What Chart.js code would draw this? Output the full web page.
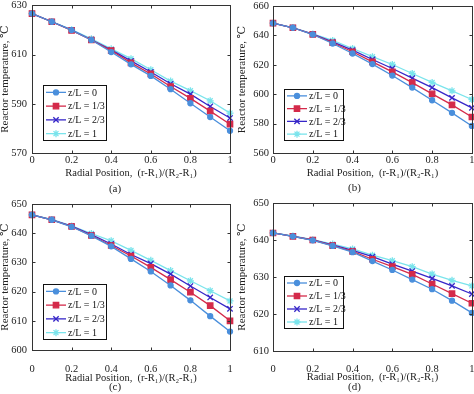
<!DOCTYPE html>
<html>
<head>
<meta charset="utf-8">
<script src="https://cdn.jsdelivr.net/npm/chart.js@4.4.0/dist/chart.umd.min.js"></script>
<style>
  body { margin: 0; background: #fff; width: 474px; height: 394px; overflow: hidden; position: relative; }
  canvas { position: absolute; }
</style>
</head>
<body>
<canvas id="chartA" width="237" height="197" style="left:0;top:0"></canvas>
<canvas id="chartB" width="240" height="197" style="left:237px;top:0"></canvas>
<canvas id="chartC" width="237" height="199" style="left:0;top:195px"></canvas>
<canvas id="chartD" width="240" height="199" style="left:237px;top:195px"></canvas>
<script>
// radial position (r-R1)/(R2-R1)
var radialPos = [0, 0.1, 0.2, 0.3, 0.4, 0.5, 0.6, 0.7, 0.8, 0.9, 1];
var xTickVals = [0, 0.2, 0.4, 0.6, 0.8, 1];
var seriesLabels = ['z/L = 0', 'z/L = 1/3', 'z/L = 2/3', 'z/L = 1'];

// (a)
var a0 = [626.6, 623.3, 619.9, 615.9, 611.0, 606.0, 601.3, 595.9, 590.2, 584.6, 579.0];
var a1 = [626.6, 623.3, 619.8, 615.9, 611.6, 606.6, 602.1, 597.0, 592.2, 587.0, 581.7];
var a2 = [626.6, 623.3, 619.9, 616.0, 611.9, 607.4, 602.9, 598.1, 593.9, 588.9, 584.2];
var a3 = [626.6, 623.4, 620.1, 616.4, 612.3, 608.3, 603.8, 599.2, 595.3, 591.2, 586.2];
var yTicksA = [570, 590, 610, 630];

// (b)
var b0 = [648.3, 645.2, 640.6, 634.5, 627.7, 620.5, 612.7, 604.5, 595.9, 587.3, 578.4];
var b1 = [648.3, 645.2, 640.7, 635.0, 628.9, 622.0, 615.2, 607.9, 600.2, 592.7, 584.5];
var b2 = [648.3, 645.2, 640.8, 635.6, 630.0, 623.6, 617.5, 610.9, 604.5, 597.5, 590.7];
var b3 = [648.3, 645.3, 641.0, 636.6, 631.1, 625.5, 620.2, 614.1, 608.0, 602.3, 596.4];
var yTicksB = [560, 580, 600, 620, 640, 660];

// (c)
var c0 = [646.3, 644.6, 642.2, 639.1, 635.5, 631.2, 626.9, 622.1, 617.0, 611.6, 606.3];
var c1 = [646.3, 644.6, 642.3, 639.2, 635.8, 632.2, 628.3, 624.1, 619.8, 615.2, 610.0];
var c2 = [646.3, 644.6, 642.4, 639.5, 636.3, 632.7, 629.6, 626.0, 621.9, 618.0, 614.1];
var c3 = [646.3, 644.7, 642.5, 639.9, 637.4, 634.1, 630.7, 627.2, 623.7, 620.3, 616.8];
var yTicksC = [600, 610, 620, 630, 640, 650];

// (d)
var d0 = [641.9, 641.0, 639.9, 638.4, 636.7, 634.3, 631.9, 629.3, 626.7, 623.6, 620.3];
var d1 = [641.9, 641.0, 640.0, 638.5, 636.9, 634.8, 632.8, 630.7, 628.1, 625.5, 622.9];
var d2 = [641.9, 641.0, 640.0, 638.7, 637.2, 635.5, 633.5, 631.6, 629.6, 627.6, 625.4];
var d3 = [641.9, 641.1, 640.1, 638.9, 637.6, 635.9, 634.4, 632.8, 630.8, 629.1, 627.6];
var yTicksD = [610, 620, 630, 640, 650];

var serif = '"Liberation Serif", "DejaVu Serif", serif';
var styles = [
    { color: '#4a8fdc', pointStyle: 'circle', radius: 2.5 },
    { color: '#d42a4a', pointStyle: 'rect', radius: 3.8 },
    { color: '#3626c8', pointStyle: 'crossRot', radius: 3.8 },
    { color: '#7ae4ec', pointStyle: 'star', radius: 3.5 }
];

// legend drawn as a boxed key inside the plot
var boxLegend = {
    id: 'boxLegend',
    afterDatasetsDraw: function (chart, args, opts) {
        var ctx = chart.ctx, area = chart.chartArea;
        var x = Math.round(area.left + opts.dx), y = Math.round(area.top + opts.dy);
        var w = opts.w, h = opts.h, rowH = h / 4;
        ctx.save();
        ctx.fillStyle = '#fff';
        ctx.fillRect(x, y, w, h);
        ctx.strokeStyle = '#111';
        ctx.lineWidth = 1;
        ctx.strokeRect(x + 0.5, y + 0.5, w, h);
        chart.data.datasets.forEach(function (ds, i) {
            var cy = y + rowH * (i + 0.5) + 0.5;
            ctx.strokeStyle = ds.borderColor;
            ctx.fillStyle = ds.backgroundColor;
            ctx.lineWidth = ds.borderWidth;
            ctx.beginPath();
            ctx.moveTo(x + 3, cy);
            ctx.lineTo(x + 23, cy);
            ctx.stroke();
            ctx.lineWidth = ds.pointBorderWidth;
            Chart.helpers.drawPoint(ctx, {
                pointStyle: ds.pointStyle, radius: ds.pointRadius,
                borderWidth: ds.pointBorderWidth, rotation: 0
            }, x + 13, cy);
            ctx.fillStyle = '#111';
            ctx.font = '10px ' + serif;
            ctx.textBaseline = 'middle';
            ctx.textAlign = 'left';
            ctx.fillText(ds.label, x + 25, cy + 0.5);
        });
        ctx.restore();
    }
};

// box around the plot, small inward ticks, and the x tick labels
var frame = {
    id: 'frame',
    afterDraw: function (chart, args, opts) {
        var ctx = chart.ctx, a = chart.chartArea;
        var sx = chart.scales.x, sy = chart.scales.y;
        var L = Math.round(a.left) + 0.5, R = Math.round(a.right) + 0.5;
        var T = Math.round(a.top) + 0.5, B = Math.round(a.bottom) + 0.5;
        ctx.save();
        ctx.strokeStyle = '#333';
        ctx.lineWidth = 1;
        ctx.strokeRect(L, T, R - L, B - T);
        ctx.beginPath();
        sx.ticks.forEach(function (t) {
            var px = Math.round(sx.getPixelForValue(t.value)) + 0.5;
            ctx.moveTo(px, B); ctx.lineTo(px, B - 3);
            ctx.moveTo(px, T); ctx.lineTo(px, T + 3);
        });
        sy.ticks.forEach(function (t) {
            var py = Math.round(sy.getPixelForValue(t.value)) + 0.5;
            ctx.moveTo(L, py); ctx.lineTo(L + 3, py);
            ctx.moveTo(R, py); ctx.lineTo(R - 3, py);
        });
        ctx.stroke();
        ctx.fillStyle = '#222';
        ctx.font = '10.5px ' + serif;
        ctx.textAlign = 'center';
        ctx.textBaseline = 'middle';
        sx.ticks.forEach(function (t) {
            ctx.fillText(String(+t.value.toFixed(1)), sx.getPixelForValue(t.value), opts.tickY);
        });
        ctx.restore();
    }
};

function makePanel(id, series, yTicks, caption, g, leg) {
    var canvas = document.getElementById(id);
    var W = canvas.width, H = canvas.height;
    var titleLH = 10.5 * 1.2, capLH = 11 * 1.2;
    var padBottom = Math.max(0, H - g.captionY - capLH / 2);
    var axisBottom = H - padBottom - capLH;
    var xAxisH = axisBottom - g.plotBottom;

    var datasets = series.map(function (vals, i) {
        var st = styles[i];
        return {
            label: seriesLabels[i],
            data: vals.map(function (v, j) { return { x: radialPos[j], y: v }; }),
            borderColor: st.color,
            backgroundColor: st.color,
            borderWidth: 1.3,
            pointStyle: st.pointStyle,
            pointRadius: st.radius,
            pointBorderWidth: 1.3,
            pointHoverRadius: st.radius,
            tension: 0,
            clip: 8
        };
    });

    return new Chart(canvas.getContext('2d'), {
        type: 'line',
        data: { datasets: datasets },
        options: {
            responsive: false,
            animation: false,
            layout: { padding: { left: 0, top: g.plotTop, right: W - g.plotRight, bottom: padBottom } },
            plugins: {
                legend: { display: false },
                tooltip: { enabled: false },
                title: {
                    display: true, text: caption, position: 'bottom',
                    padding: 0, color: '#222',
                    font: { family: serif, size: 11, weight: 'normal' }
                },
                boxLegend: leg,
                frame: { tickY: g.tickY }
            },
            scales: {
                x: {
                    type: 'linear', min: 0, max: 1,
                    afterBuildTicks: function (s) { s.ticks = xTickVals.map(function (v) { return { value: v }; }); },
                    afterFit: function (s) { s.height = xAxisH; },
                    grid: { display: false, drawTicks: false },
                    ticks: { display: false },
                    title: {
                        display: true,
                        text: 'Radial Position,  (r-R\u2081)/(R\u2082-R\u2081)',
                        color: '#222',
                        font: { family: serif, size: 10.5 },
                        padding: { top: 0, bottom: axisBottom - g.titleY - titleLH / 2 }
                    }
                },
                y: {
                    min: yTicks[0], max: yTicks[yTicks.length - 1],
                    afterBuildTicks: function (s) { s.ticks = yTicks.map(function (v) { return { value: v }; }); },
                    afterFit: function (s) { s.width = g.plotLeft; },
                    grid: { display: false, drawTicks: true, tickLength: g.yTickPad },
                    ticks: {
                        padding: 0, color: '#222',
                        font: { family: serif, size: 10.5, lineHeight: 1 }
                    },
                    title: {
                        display: true,
                        text: 'Reactor temperature, \u2103',
                        color: '#222',
                        font: { family: serif, size: 11, lineHeight: 1 },
                        padding: { top: 0, bottom: 0 }
                    }
                }
            }
        },
        plugins: [boxLegend, frame]
    });
}

makePanel('chartA', [a0, a1, a2, a3], yTicksA, '(a)',
    { plotLeft: 32, plotRight: 230, plotTop: 5, plotBottom: 153, tickY: 160, titleY: 173, captionY: 189, yTickPad: 5 },
    { dx: 11, dy: 80, w: 63, h: 55 });
makePanel('chartB', [b0, b1, b2, b3], yTicksB, '(b)',
    { plotLeft: 36, plotRight: 235, plotTop: 6, plotBottom: 153, tickY: 160, titleY: 173, captionY: 188, yTickPad: 4 },
    { dx: 11, dy: 83, w: 59, h: 51 });
makePanel('chartC', [c0, c1, c2, c3], yTicksC, '(c)',
    { plotLeft: 32, plotRight: 230, plotTop: 9, plotBottom: 155, tickY: 174, titleY: 183, captionY: 192, yTickPad: 5 },
    { dx: 11, dy: 80, w: 63, h: 55 });
makePanel('chartD', [d0, d1, d2, d3], yTicksD, '(d)',
    { plotLeft: 36, plotRight: 235, plotTop: 8, plotBottom: 156, tickY: 174, titleY: 182, captionY: 192, yTickPad: 4 },
    { dx: 11, dy: 73, w: 59, h: 52 });
</script>
</body>
</html>
